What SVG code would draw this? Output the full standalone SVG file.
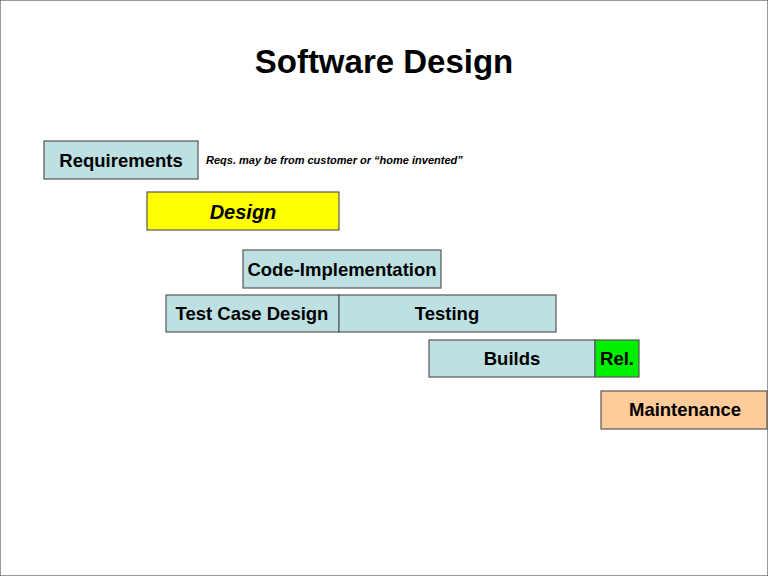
<svg xmlns="http://www.w3.org/2000/svg" width="768" height="576" viewBox="0 0 768 576">
<style>
rect{stroke:#555;stroke-width:1.2}
.b{fill:#bde0e3}
text{font-family:"Liberation Sans",Arial,sans-serif;font-weight:bold;fill:#000;text-anchor:middle}
.t{font-size:18.5px}
</style>
<rect x="0" y="0" width="768" height="576" fill="#fff" stroke="none"/>
<text x="384" y="73" font-size="33">Software Design</text>
<g id="requirements"><rect class="b" x="44" y="141" width="154" height="38"/><text class="t" x="121" y="167">Requirements</text></g>
<text x="206" y="164" font-size="11" font-style="italic" style="text-anchor:start">Reqs. may be from customer or “home invented”</text>
<g id="design"><rect x="147" y="192" width="192" height="38" fill="#ffff00"/><text x="243" y="219" font-size="20" font-style="italic">Design</text></g>
<g id="code"><rect class="b" x="243" y="250" width="198" height="38"/><text class="t" x="342" y="276">Code-Implementation</text></g>
<g id="testcase"><rect class="b" x="166" y="295" width="173" height="37"/><text class="t" x="252" y="320">Test Case Design</text></g>
<g id="testing"><rect class="b" x="339" y="295" width="217" height="37"/><text class="t" x="447" y="320">Testing</text></g>
<g id="builds"><rect class="b" x="429" y="340" width="166" height="37"/><text class="t" x="512" y="365">Builds</text></g>
<g id="rel"><rect x="595" y="340" width="44" height="37" fill="#00ee00"/><text class="t" x="617" y="365">Rel.</text></g>
<g id="maintenance"><rect x="601" y="391" width="166" height="38" fill="#ffcc99"/><text class="t" x="685" y="416">Maintenance</text></g>
<g id="connectors"></g>
</svg>
